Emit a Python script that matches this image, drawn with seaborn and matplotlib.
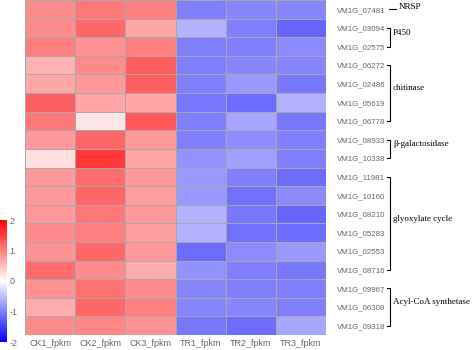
import numpy as np
import pandas as pd
import matplotlib
matplotlib.use('Agg')
import matplotlib.pyplot as plt
import seaborn as sns
from matplotlib.colors import LinearSegmentedColormap

# row-scaled expression (z-score)
genes = ['VM1G_07481', 'VM1G_03094', 'VM1G_02575', 'VM1G_06272', 'VM1G_02486',
         'VM1G_05619', 'VM1G_06778', 'VM1G_08933', 'VM1G_10338', 'VM1G_11981',
         'VM1G_10160', 'VM1G_08210', 'VM1G_05283', 'VM1G_02553', 'VM1G_08716',
         'VM1G_09967', 'VM1G_06308', 'VM1G_09318']
samples = ['CK1_fpkm', 'CK2_fpkm', 'CK3_fpkm', 'TR1_fpkm', 'TR2_fpkm', 'TR3_fpkm']

ck1 = [0.90, 0.90, 1.00, 0.60, 0.70, 1.25, 1.05, 0.80, 0.25, 0.80, 0.80, 0.80, 0.90, 0.85, 1.15, 0.85, 0.65, 0.90]
ck2 = [1.05, 1.20, 0.85, 0.90, 0.80, 0.70, 0.20, 1.20, 1.55, 1.15, 1.20, 1.05, 1.00, 1.20, 0.90, 1.10, 1.20, 0.95]
ck3 = [1.00, 0.70, 1.00, 1.25, 1.25, 0.70, 1.30, 0.80, 0.70, 0.80, 0.75, 0.80, 0.75, 0.80, 0.65, 0.90, 1.00, 0.85]
tr1 = [-1.00, -0.60, -1.00, -1.00, -1.00, -1.05, -1.00, -1.00, -0.85, -0.80, -0.80, -0.60, -0.60, -1.15, -0.85, -0.95, -0.95, -1.05]
tr2 = [-0.95, -1.00, -1.00, -0.95, -0.80, -1.15, -0.70, -0.90, -0.75, -1.00, -1.10, -1.05, -1.10, -0.90, -1.00, -1.00, -0.95, -1.15]
tr3 = [-0.95, -1.20, -0.90, -0.95, -1.05, -0.60, -1.05, -1.00, -1.00, -1.15, -0.90, -1.20, -1.15, -0.80, -1.05, -1.00, -1.00, -0.70]

group_names = ['NRSP', 'P450', 'chitinase', 'β-galactosidase', 'glyoxylate cycle', 'Acyl-CoA synthetase']
group_first = [0, 1, 3, 7, 9, 15]
group_last = [0, 2, 6, 8, 14, 17]

df = pd.DataFrame({'CK1_fpkm': ck1, 'CK2_fpkm': ck2, 'CK3_fpkm': ck3,
                   'TR1_fpkm': tr1, 'TR2_fpkm': tr2, 'TR3_fpkm': tr3}, index=genes)[samples]

cmap = LinearSegmentedColormap.from_list('bwr_ph', ['#0000ff', '#ffffff', '#ff0000'])

W, H = 474, 350
fig = plt.figure(figsize=(W / 100, H / 100), dpi=100)
ax = fig.add_axes([25 / W, 15 / H, 301 / W, 335 / H])
cax = fig.add_axes([0, 8 / H, 7 / W, 122 / H])

sns.heatmap(df, ax=ax, cmap=cmap, vmin=-2, vmax=2, linewidths=0.5, linecolor='#a8a8a8',
            cbar_ax=cax, xticklabels=samples, yticklabels=genes)

grey = '#666666'
ax.yaxis.tick_right()
ax.tick_params(axis='y', length=0, pad=8, labelsize=5.7, labelcolor=grey, labelrotation=0)
ax.tick_params(axis='x', length=0, pad=3, labelsize=6.5, labelcolor=grey, labelrotation=0)
for t in ax.get_yticklabels():
    t.set_fontfamily('Liberation Sans')
    t.set_ha('left')
for t in ax.get_xticklabels():
    t.set_fontfamily('Liberation Sans')

cax.tick_params(length=0, pad=2, labelsize=6.5, labelcolor=grey)
cax.set_yticks([-2, -1, 0, 1, 2])
cax.set_yticklabels(['-2', '-1', '0', '1', '2'], fontfamily='Liberation Sans')
for s in cax.spines.values():
    s.set_visible(False)

# group brackets
colw = 301 / 6
xl = 6 + (390 - 326) / colw
tk = 3 / colw
xt = 6 + (393 - 326) / colw
for name, a, b in zip(group_names, group_first, group_last):
    y0, y1 = a + 0.5, b + 0.5
    if a == b:
        ax.plot([xl - 1 / colw, xl + 6 / colw], [y0, y0], color='black', lw=0.8, clip_on=False)
        ax.text(xl + 9 / colw, y0 - 0.1, name, fontsize=6.5, family='Liberation Serif',
                va='center', ha='left', clip_on=False)
    else:
        ax.plot([xl - tk, xl, xl, xl - tk], [y0, y0, y1, y1], color='black', lw=0.8, clip_on=False)
        ax.text(xt, (y0 + y1) / 2 - 0.25, name, fontsize=6.5, family='Liberation Serif',
                va='center', ha='left', clip_on=False)

fig.savefig('out.png', dpi=100)
